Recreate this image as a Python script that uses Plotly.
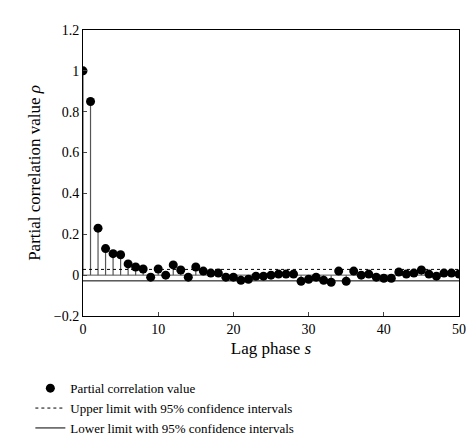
import plotly.graph_objects as go

lags = list(range(51))
pacf = [1.0, 0.85, 0.23, 0.13, 0.105, 0.10, 0.055, 0.04, 0.03, -0.01, 0.03, 0.0, 0.05, 0.025, -0.01,
        0.04, 0.02, 0.01, 0.01, -0.01, -0.01, -0.025, -0.02, -0.005, -0.005, 0.0, 0.005, 0.005, 0.005,
        -0.03, -0.02, -0.01, -0.025, -0.035, 0.02, -0.03, 0.02, 0.0, 0.005, -0.01, -0.015, -0.015,
        0.015, 0.005, 0.01, 0.025, 0.005, -0.005, 0.01, 0.01, 0.005]
upper = 0.028
lower = -0.028

fig = go.Figure()
sx, sy = [], []
for x, y in zip(lags, pacf):
    sx += [x, x, None]; sy += [0, y, None]
fig.add_trace(go.Scatter(x=sx, y=sy, mode="lines", line=dict(color="#555", width=1.2),
                         showlegend=False, hoverinfo="skip"))
fig.add_trace(go.Scatter(x=[0, 50], y=[0, 0], mode="lines", line=dict(color="#555", width=1),
                         showlegend=False, hoverinfo="skip"))
fig.add_trace(go.Scatter(x=lags, y=pacf, mode="markers",
                         marker=dict(size=9, color="black"), name="Partial correlation value"))
fig.add_trace(go.Scatter(x=[0, 50], y=[upper, upper], mode="lines",
                         line=dict(color="black", width=1, dash="dot"),
                         name="Upper limit with 95% confidence intervals"))
fig.add_trace(go.Scatter(x=[0, 50], y=[lower, lower], mode="lines",
                         line=dict(color="black", width=1),
                         name="Lower limit with 95% confidence intervals"))

ax = dict(showline=True, linecolor="black", mirror=True, ticks="inside", ticklen=4,
          showgrid=False, zeroline=False, tickfont=dict(size=14, color="black"))
fig.update_layout(
    width=474, height=447, plot_bgcolor="white", paper_bgcolor="white",
    font=dict(family="Liberation Serif", size=14, color="black"),
    margin=dict(l=75, r=23, t=22, b=135),
    xaxis=dict(ax, range=[0, 50], dtick=10, title=dict(text="Lag phase <i>s</i>", standoff=6)),
    yaxis=dict(ax, range=[-0.2, 1.2], dtick=0.2, tickformat="~g",
               title=dict(text="Partial correlation value <i>ρ</i>", standoff=8)),
    legend=dict(x=-0.14, y=-0.2, xanchor="left", yanchor="top", bgcolor="rgba(0,0,0,0)",
                font=dict(size=13), tracegroupgap=0),
)
fig.write_html("out.html")
